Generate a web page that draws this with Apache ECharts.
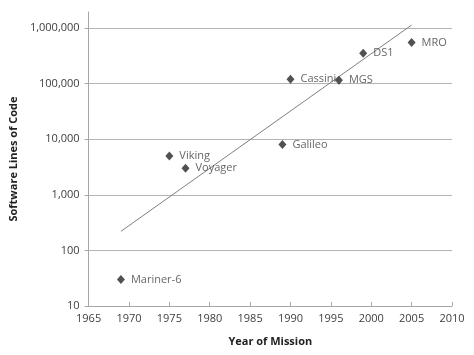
<!DOCTYPE html>
<html>
<head>
<meta charset="utf-8">
<script src="https://cdn.jsdelivr.net/npm/echarts@6/dist/echarts.min.js"></script>
<style>html,body{margin:0;padding:0;background:#fff}#c{width:474px;height:355px}</style>
</head>
<body>
<div id="c"></div>
<script>
const missions = ['Mariner-6', 'Viking', 'Voyager', 'Galileo', 'Cassini', 'MGS', 'DS1', 'MRO'];
const years = [1969, 1975, 1977, 1989, 1990, 1996, 1999, 2005];
const sloc = [30, 5000, 3000, 8000, 120000, 115000, 350000, 550000];
const trendYears = [1969, 2005];
const trendValues = [220, 1130000];

const FONT = "'Open Sans', sans-serif";
const chart = echarts.init(document.getElementById('c'), null, {renderer: 'canvas'});
chart.setOption({
  backgroundColor: '#fff',
  animation: false,
  grid: {left: 81, right: 22, top: 12, bottom: 49, containLabel: false},
  xAxis: {
    type: 'value', min: 1965, max: 2010, interval: 5,
    name: 'Year of Mission', nameLocation: 'middle', nameGap: 30,
    nameTextStyle: {fontFamily: FONT, fontSize: 11, fontWeight: 'bold', color: '#222'},
    axisLine: {show: true, lineStyle: {color: '#a6a6a6', width: 1}},
    axisTick: {show: true, inside: true, length: 4, lineStyle: {color: '#a6a6a6'}},
    axisLabel: {fontFamily: FONT, fontSize: 11, color: '#404040', margin: 7,
      formatter: v => String(Math.round(v))},
    splitLine: {show: false}
  },
  yAxis: {
    type: 'log', logBase: 10, min: 10, max: 1940000,
    name: 'Software Lines of Code', nameLocation: 'middle', nameGap: 61,
    nameTextStyle: {fontFamily: FONT, fontSize: 11, fontWeight: 'bold', color: '#222'},
    axisLine: {show: true, lineStyle: {color: '#a6a6a6', width: 1}},
    axisTick: {show: true, inside: false, length: 4, lineStyle: {color: '#a6a6a6'}},
    axisLabel: {fontFamily: FONT, fontSize: 11, color: '#404040', margin: 9, showMaxLabel: false,
      formatter: v => Math.round(v).toLocaleString('en-US')},
    splitLine: {show: true, showMaxLine: false, lineStyle: {color: '#b3b3b3', width: 1}}
  },
  series: [
    {
      type: 'line',
      data: trendYears.map((y, i) => [y, trendValues[i]]),
      showSymbol: false, symbol: 'none', clip: false,
      lineStyle: {color: '#7f7f7f', width: 1},
      z: 1
    },
    {
      type: 'scatter',
      data: years.map((y, i) => ({value: [y, sloc[i]], name: missions[i]})),
      symbol: 'diamond', symbolSize: [8, 9],
      itemStyle: {color: '#262626'},
      label: {show: true, position: 'right', distance: 6, formatter: p => p.name,
        fontFamily: FONT, fontSize: 11, color: '#404040'},
      z: 3
    }
  ]
});
</script>
</body>
</html>
